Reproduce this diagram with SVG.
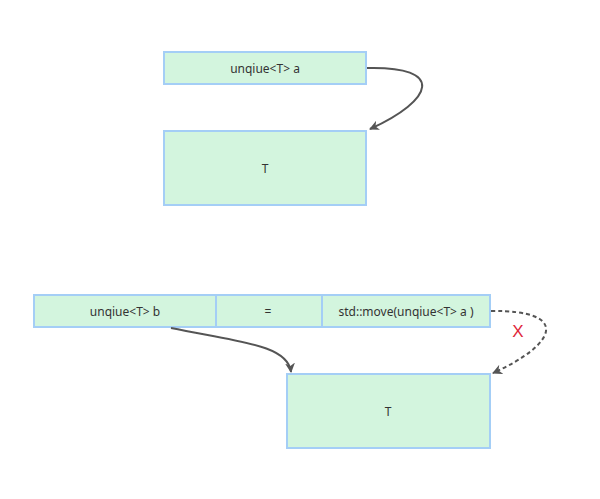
<svg xmlns="http://www.w3.org/2000/svg" width="600" height="499" viewBox="0 0 600 499">
<style>
.box{fill:#d3f5de;stroke:#a4cef6;stroke-width:2}
.t{font-family:"Noto Sans","Open Sans",sans-serif;font-size:12px;fill:#333;text-anchor:middle;dominant-baseline:central}
.c{fill:none;stroke:#555;stroke-width:2}
.d{fill:none;stroke:#555;stroke-width:2;stroke-dasharray:4 3}
</style>
<defs>
<marker id="ah" viewBox="0 0 10 10" refX="9" refY="5" markerWidth="5" markerHeight="5" orient="auto" markerUnits="strokeWidth">
<path d="M0,0 L10,5 L0,10 L3,5 Z" fill="#555"/>
</marker>
</defs>
<rect width="600" height="499" fill="#fff"/>
<g id="nodeA"><rect class="box" x="164" y="52" width="202" height="32"/><text class="t" x="265" y="68">unqiue&lt;T&gt; a</text></g>
<g id="nodeT1"><rect class="box" x="164" y="131" width="202" height="74"/><text class="t" x="265" y="168">T</text></g>
<g id="nodeB"><rect class="box" x="34" y="295" width="182" height="32"/><text class="t" x="125" y="311">unqiue&lt;T&gt; b</text></g>
<g id="nodeEq"><rect class="box" x="216" y="295" width="106" height="32"/><text class="t" x="268" y="311">=</text></g>
<g id="nodeMove"><rect class="box" x="322" y="295" width="168" height="32"/><text class="t" x="406" y="311">std::move(unqiue&lt;T&gt; a )</text></g>
<g id="nodeT2"><rect class="box" x="287" y="374" width="203" height="74"/><text class="t" x="388" y="411">T</text></g>
<g id="connectors">
<path class="c" d="M367,68 C446,66 434,100 370,129" marker-end="url(#ah)"/>
<path class="c" d="M171,328 C240,342 288,345 291,372" marker-end="url(#ah)"/>
<path class="d" d="M491,311 C572,310 556,345 493,373" marker-end="url(#ah)"/>
<text x="518" y="337" font-family="Liberation Sans,Arial,sans-serif" font-size="17" fill="#e0263a" text-anchor="middle">X</text>
</g>
</svg>
